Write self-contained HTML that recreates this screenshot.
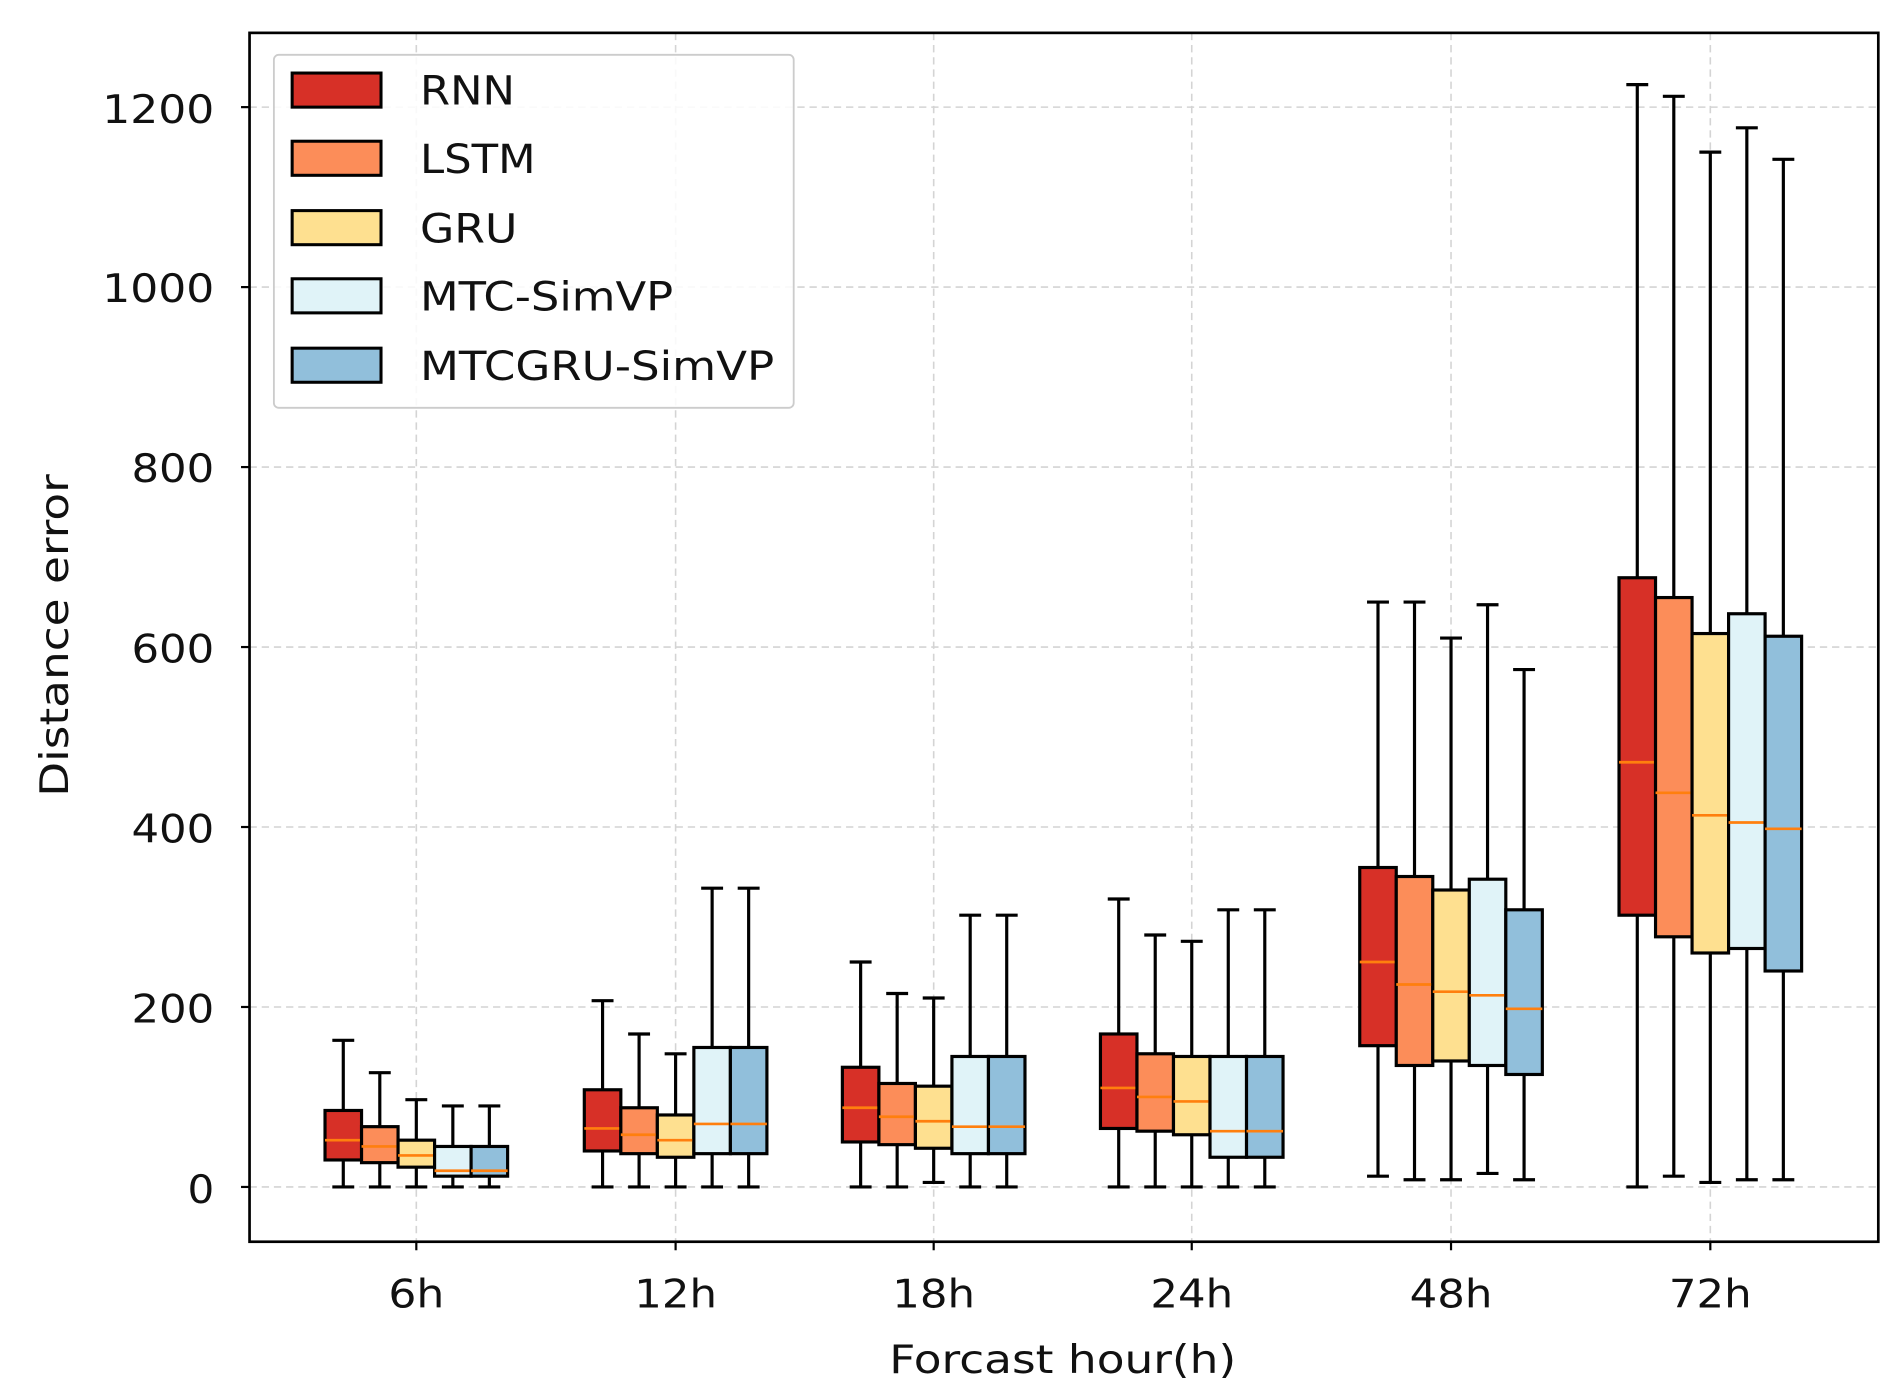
<!DOCTYPE html>
<html><head><meta charset="utf-8"><style>
html,body{margin:0;padding:0;background:#fff;}
svg{display:block;}
text{font-family:"DejaVu Sans","Liberation Sans",sans-serif;fill:#111;}
</style></head><body>
<svg id="s" width="1899" height="1400" viewBox="0 0 1560 1150" preserveAspectRatio="none" xmlns="http://www.w3.org/2000/svg">
<rect x="0" y="0" width="1560" height="1150" fill="#fff"/>
<g id="grid" stroke="#d4d4d4" stroke-width="1.3" stroke-dasharray="6,4"></g>
<g id="boxes"></g>
<rect x="205" y="27" width="1338" height="993" fill="none" stroke="#000" stroke-width="2.2"/>
<g id="ticks" stroke="#000" stroke-width="1.8"></g>
<g font-size="32" text-anchor="end" lengthAdjust="spacingAndGlyphs">
<text x="176" y="988" textLength="22" lengthAdjust="spacingAndGlyphs">0</text>
<text x="176" y="840" textLength="68" lengthAdjust="spacingAndGlyphs">200</text>
<text x="176" y="692" textLength="68" lengthAdjust="spacingAndGlyphs">400</text>
<text x="176" y="544" textLength="68" lengthAdjust="spacingAndGlyphs">600</text>
<text x="176" y="396" textLength="68" lengthAdjust="spacingAndGlyphs">800</text>
<text x="176" y="248" textLength="92" lengthAdjust="spacingAndGlyphs">1000</text>
<text x="176" y="101" textLength="92" lengthAdjust="spacingAndGlyphs">1200</text>
</g>
<g font-size="32" text-anchor="middle">
<text x="342" y="1074" textLength="46" lengthAdjust="spacingAndGlyphs">6h</text>
<text x="555" y="1074" textLength="68" lengthAdjust="spacingAndGlyphs">12h</text>
<text x="767" y="1074" textLength="68" lengthAdjust="spacingAndGlyphs">18h</text>
<text x="979" y="1074" textLength="68" lengthAdjust="spacingAndGlyphs">24h</text>
<text x="1192" y="1074" textLength="68" lengthAdjust="spacingAndGlyphs">48h</text>
<text x="1405" y="1074" textLength="68" lengthAdjust="spacingAndGlyphs">72h</text>
<text x="873" y="1128" textLength="285" lengthAdjust="spacingAndGlyphs">Forcast hour(h)</text>
</g>
<text x="0" y="0" font-size="32" text-anchor="middle" textLength="265" lengthAdjust="spacingAndGlyphs" transform="translate(56,522) rotate(-90)">Distance error</text>
<rect x="225" y="45" width="427" height="290" rx="4" fill="#fff" fill-opacity="0.85" stroke="#ccc" stroke-width="1.5"/>
<g stroke="#000" stroke-width="2.5">
<rect x="240" y="60" width="73" height="28" fill="#d73027"/>
<rect x="240" y="116" width="73" height="28" fill="#fc8d59"/>
<rect x="240" y="173" width="73" height="28" fill="#fee090"/>
<rect x="240" y="229" width="73" height="28" fill="#e0f3f8"/>
<rect x="240" y="286" width="73" height="28" fill="#91bfdb"/>
</g>
<g font-size="33">
<text x="345" y="86" textLength="78" lengthAdjust="spacingAndGlyphs">RNN</text>
<text x="345" y="142" textLength="95" lengthAdjust="spacingAndGlyphs">LSTM</text>
<text x="345" y="199" textLength="80" lengthAdjust="spacingAndGlyphs">GRU</text>
<text x="345" y="255" textLength="208" lengthAdjust="spacingAndGlyphs">MTC-SimVP</text>
<text x="345" y="312" textLength="291" lengthAdjust="spacingAndGlyphs">MTCGRU-SimVP</text>
</g>
</svg>
<script>
(function(){
var ns="http://www.w3.org/2000/svg";
function el(p,t,a){var e=document.createElementNS(ns,t);for(var k in a)e.setAttribute(k,a[k]);p.appendChild(e);return e;}
function Y(v){return 975-v*887/1200;}
var g=document.getElementById('grid'),tk=document.getElementById('ticks'),bx=document.getElementById('boxes');
var cx=[342,555,767,979,1192,1405];
for(var v=0;v<=1200;v+=200){el(g,'line',{x1:205,x2:1543,y1:Y(v),y2:Y(v)});el(tk,'line',{x1:198,x2:205,y1:Y(v),y2:Y(v)});}
cx.forEach(function(x){el(g,'line',{x1:x,x2:x,y1:27,y2:1020});el(tk,'line',{x1:x,x2:x,y1:1020,y2:1027});});
var cols=['#d73027','#fc8d59','#fee090','#e0f3f8','#91bfdb'];
var D=[
[[0,30,52,85,163],[0,27,45,67,127],[0,22,35,52,97],[0,12,18,45,90],[0,12,18,45,90]],
[[0,40,65,108,207],[0,37,58,88,170],[0,33,52,80,148],[0,37,70,155,332],[0,37,70,155,332]],
[[0,50,88,133,250],[0,47,78,115,215],[5,43,73,112,210],[0,37,67,145,302],[0,37,67,145,302]],
[[0,65,110,170,320],[0,62,100,148,280],[0,58,95,145,273],[0,33,62,145,308],[0,33,62,145,308]],
[[12,157,250,355,650],[8,135,225,345,650],[8,140,217,330,610],[15,135,213,342,647],[8,125,198,308,575]],
[[0,302,472,677,1225],[12,278,438,655,1212],[5,260,413,615,1150],[8,265,405,637,1177],[8,240,398,612,1142]]];
var W=2.6;
D.forEach(function(grp,gi){grp.forEach(function(d,i){
var c=cx[gi]+(i-2)*30;
el(bx,'line',{x1:c,x2:c,y1:Y(d[0]),y2:Y(d[1]),stroke:'#000','stroke-width':W});
el(bx,'line',{x1:c,x2:c,y1:Y(d[3]),y2:Y(d[4]),stroke:'#000','stroke-width':W});
el(bx,'line',{x1:c-9,x2:c+9,y1:Y(d[0]),y2:Y(d[0]),stroke:'#000','stroke-width':W});
el(bx,'line',{x1:c-9,x2:c+9,y1:Y(d[4]),y2:Y(d[4]),stroke:'#000','stroke-width':W});
el(bx,'rect',{x:c-15,y:Y(d[3]),width:30,height:Y(d[1])-Y(d[3]),fill:cols[i],stroke:'#000','stroke-width':W});
el(bx,'line',{x1:c-15,x2:c+15,y1:Y(d[2]),y2:Y(d[2]),stroke:'#ff7f0e','stroke-width':2.2});
});});
})();
</script>
</body></html>
